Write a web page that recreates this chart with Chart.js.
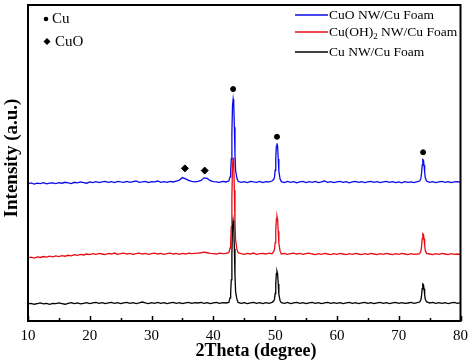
<!DOCTYPE html>
<html>
<head>
<meta charset="utf-8">
<script src="https://cdn.jsdelivr.net/npm/chart.js@4/dist/chart.umd.min.js"></script>
<style>
	html, body { margin: 0; padding: 0; background: #fff; }
	#wrap { width: 474px; height: 363px; }
</style>
</head>
<body>
<div id="wrap"><canvas id="xrd"></canvas></div>
<script>
// 2theta positions (degree), shared by the three patterns
const twoTheta = [
	10, 10.5, 11, 11.5, 12, 12.5, 13, 13.5, 14, 14.5, 15,
	15.5, 16, 16.5, 17, 17.5, 18, 18.5, 19, 19.5, 20, 20.5,
	21, 21.5, 22, 22.5, 23, 23.5, 24, 24.5, 25, 25.5, 26,
	26.5, 27, 27.5, 28, 28.5, 29, 29.5, 30, 30.5, 31, 31.5,
	32, 32.5, 33, 33.5, 34, 34.5, 35, 35.5, 36, 36.5, 37,
	37.5, 38, 38.5, 39, 39.5, 40, 40.5, 41, 41.5, 42, 42.5,
	42.7, 42.8, 42.9, 43.0, 43.1, 43.2, 43.3, 43.4, 43.5, 43.6, 43.8,
	44, 44.5, 45, 45.5, 46, 46.5, 47, 47.5, 48, 48.5, 49, 49.5,
	49.8, 49.9, 50.0, 50.1, 50.2, 50.3, 50.4, 50.5, 50.6, 50.8,
	51, 51.5, 52, 52.5, 53, 53.5, 54, 54.5, 55,
	55.5, 56, 56.5, 57, 57.5, 58, 58.5, 59, 59.5,
	60, 60.5, 61, 61.5, 62, 62.5, 63, 63.5, 64,
	64.5, 65, 65.5, 66, 66.5, 67, 67.5, 68, 68.5,
	69, 69.5, 70, 70.5, 71, 71.5, 72, 72.5, 73,
	73.4, 73.6, 73.7, 73.8, 73.9, 74.0, 74.1, 74.2, 74.3, 74.5,
	75, 75.5, 76, 76.5, 77, 77.5, 78, 78.5, 79, 79.5, 80,
]

// intensities (a.u., already stacked as in the figure)
const cuoNw = [
	43.4, 43.7, 43.3, 43.6, 43.5, 43.8, 43.4, 43.6, 43.7, 43.5, 43.8,
	43.6, 43.9, 43.7, 43.5, 43.9, 43.7, 44.0, 43.8, 43.6, 44.0, 43.8,
	44.1, 43.8, 44.0, 44.2, 43.9, 44.1, 43.8, 44.2, 44.0, 43.9, 44.2,
	43.9, 44.1, 44.3, 43.9, 44.0, 44.2, 43.8, 44.1, 44.0, 44.3, 43.9,
	44.1, 43.9, 44.2, 44.0, 44.3, 44.6, 45.4, 45.0, 44.5, 44.2, 44.0,
	44.2, 44.5, 45.3, 45.1, 44.4, 44.1, 44.0, 43.9, 44.2, 44.0, 44.3,
	45.6, 47.1, 51.3, 59.7, 68.1, 70.2, 68.4, 61.3, 52.6, 47.7, 45.3,
	44.2, 43.9, 44.1, 43.8, 44.2, 44.0, 43.9, 44.2, 43.8, 44.1, 44.0, 44.3,
	44.9, 45.6, 47.7, 51.6, 55.3, 56.2, 55.2, 51.3, 47.4, 44.9,
	44.1, 43.8, 44.2, 43.9, 44.1, 43.7, 44.0, 44.2, 43.8,
	44.1, 43.9, 44.2, 43.8, 44.0, 44.3, 43.9, 44.1, 43.8,
	44.0, 44.2, 43.9, 44.1, 43.7, 44.0, 44.2, 43.9, 44.1,
	43.8, 44.0, 44.2, 43.9, 44.1, 43.8, 44.0, 44.2, 43.9,
	44.1, 43.8, 44.0, 43.7, 44.1, 43.9, 44.0, 43.8, 44.1,
	44.3, 45.2, 46.8, 49.3, 51.1, 50.9, 49.3, 47.1, 45.3, 44.3,
	43.9, 44.1, 43.8, 44.0, 44.2, 43.9, 44.1, 43.8, 44.0, 44.1, 43.9,
]

const cuOh2Nw = [
	20.0, 20.2, 19.9, 20.3, 20.1, 20.4, 20.2, 20.5, 20.3, 20.6, 20.4,
	20.7, 20.5, 20.8, 20.6, 21.0, 20.8, 21.1, 20.9, 21.2, 21.0, 21.3,
	21.1, 21.4, 21.2, 21.0, 21.4, 21.2, 21.5, 21.1, 21.3, 21.5, 21.2,
	21.4, 21.1, 21.3, 21.5, 21.2, 21.4, 21.1, 21.3, 21.5, 21.2, 21.4,
	21.1, 21.3, 21.5, 21.2, 21.4, 21.1, 21.4, 21.2, 21.5, 21.3, 21.4,
	21.5, 21.6, 21.8, 21.6, 21.4, 21.3, 21.2, 21.5, 21.3, 21.4, 21.6,
	23.1, 24.9, 29.8, 39.5, 49.3, 51.7, 49.6, 41.4, 31.3, 25.6, 22.8,
	21.6, 21.3, 21.1, 21.4, 21.2, 21.5, 21.1, 21.3, 21.4, 21.2, 21.5, 21.3,
	22.1, 22.8, 24.8, 28.6, 32.3, 33.1, 32.2, 28.4, 24.6, 22.1,
	21.2, 21.4, 21.1, 21.3, 21.5, 21.2, 21.4, 21.1, 21.3,
	21.5, 21.2, 21.0, 21.3, 21.1, 21.4, 21.2, 21.0, 21.3,
	21.1, 21.4, 21.2, 21.0, 21.3, 21.1, 21.4, 21.2, 21.0,
	21.3, 21.1, 21.4, 21.2, 21.0, 21.3, 21.1, 21.4, 21.2,
	21.0, 21.3, 21.1, 21.4, 21.2, 21.0, 21.3, 21.1, 21.2,
	21.3, 22.2, 23.6, 26.0, 27.6, 27.4, 26.0, 24.0, 22.3, 21.4,
	21.2, 21.0, 21.3, 21.1, 21.4, 21.2, 21.0, 21.3, 21.1, 21.2, 21.0,
]

const cuNw = [
	5.4, 5.6, 5.3, 5.5, 5.7, 5.4, 5.6, 5.3, 5.6, 5.5, 5.7,
	5.5, 5.3, 5.6, 5.8, 5.5, 5.7, 5.4, 5.6, 5.8, 5.5, 5.7,
	5.9, 5.6, 5.8, 5.5, 5.7, 5.9, 5.6, 5.8, 5.5, 5.7, 5.9,
	5.6, 5.8, 5.5, 5.7, 6.0, 5.7, 5.5, 5.8, 5.6, 5.9, 5.6,
	5.8, 5.5, 5.7, 5.9, 5.6, 5.8, 5.5, 5.7, 5.9, 5.6, 5.8,
	5.7, 5.9, 5.6, 5.8, 5.5, 5.7, 5.9, 5.6, 5.8, 5.7, 5.9,
	7.3, 8.8, 13.0, 21.3, 29.6, 31.7, 29.9, 22.9, 14.3, 9.3, 7.0,
	5.9, 5.6, 5.8, 5.5, 5.7, 5.9, 5.6, 5.8, 5.5, 5.8, 5.6, 5.9,
	6.4, 7.0, 8.7, 11.9, 15.0, 15.7, 14.9, 11.7, 8.5, 6.4,
	5.8, 5.6, 5.9, 5.5, 5.7, 5.9, 5.6, 5.8, 5.5,
	5.7, 5.9, 5.6, 5.8, 5.5, 5.7, 5.9, 5.6, 5.8,
	5.6, 5.8, 5.5, 5.7, 5.9, 5.6, 5.8, 5.5, 5.7,
	5.9, 5.6, 5.8, 5.5, 5.7, 5.9, 5.6, 5.8, 5.5,
	5.7, 5.9, 5.6, 5.8, 5.6, 5.7, 5.9, 5.6, 5.8,
	6.0, 6.8, 8.1, 10.2, 11.7, 11.5, 10.2, 8.4, 6.9, 6.1,
	5.7, 5.9, 5.6, 5.8, 5.6, 5.8, 5.5, 5.7, 5.9, 5.6, 5.8,
]

// peak markers
const cuMarkX = [43.2, 50.3, 73.95]
const cuMarkY = [73.4, 58.3, 53.4]
const cuoMarkX = [35.4, 38.6]
const cuoMarkY = [48.3, 47.6]

const seriesNames = ["CuO NW/Cu Foam", "Cu(OH)2 NW/Cu Foam", "Cu NW/Cu Foam"]
const seriesColors = ["rgb(10,10,235)", "rgb(232,12,20)", "rgb(0,0,0)"]

const serif = "'Liberation Serif', 'Times New Roman', serif"

function points(xs, ys) {
	return xs.map((x, i) => ({ x: x, y: ys[i] }))
}

const decorations = {
	id: "decorations",
	afterDraw(chart) {
		const ctx = chart.ctx
		const area = chart.chartArea
		const xScale = chart.scales.x
		ctx.save()

		// frame
		ctx.strokeStyle = "#000"
		ctx.lineWidth = 2
		ctx.strokeRect(area.left, area.top, area.right - area.left, area.bottom - area.top)

		// inward ticks on the bottom axis
		ctx.lineWidth = 1.5
		ctx.beginPath()
		for (let v = 10; v <= 80; v += 5) {
			const px = Math.round(xScale.getPixelForValue(v)) + 0.5
			const len = v % 10 === 0 ? 5 : 3
			ctx.moveTo(px, area.bottom)
			ctx.lineTo(px, area.bottom - len)
		}
		ctx.stroke()

		// axis titles
		ctx.fillStyle = "#000"
		ctx.textAlign = "center"
		ctx.textBaseline = "middle"
		ctx.font = "bold 18px " + serif
		ctx.fillText("2Theta (degree)", 256, 351)
		ctx.save()
		ctx.translate(12, 158)
		ctx.rotate(-Math.PI / 2)
		ctx.font = "bold 19px " + serif
		ctx.fillText("Intensity (a.u.)", 0, 0)
		ctx.restore()

		// phase key, top left
		ctx.textAlign = "left"
		ctx.font = "15px " + serif
		ctx.beginPath()
		ctx.arc(46, 19, 2.3, 0, Math.PI * 2)
		ctx.fill()
		ctx.fillText("Cu", 52, 19)
		ctx.beginPath()
		ctx.moveTo(47, 38)
		ctx.lineTo(50.5, 41.5)
		ctx.lineTo(47, 45)
		ctx.lineTo(43.5, 41.5)
		ctx.closePath()
		ctx.fill()
		ctx.fillText("CuO", 55, 42)

		// series legend, top right
		const rows = [15, 32, 52]
		ctx.font = "13.5px " + serif
		rows.forEach((y, i) => {
			ctx.strokeStyle = seriesColors[i]
			ctx.lineWidth = 1.5
			ctx.beginPath()
			ctx.moveTo(295, y)
			ctx.lineTo(328, y)
			ctx.stroke()
			ctx.fillStyle = "#000"
			if (i === 1) {
				let x = 329
				ctx.fillText("Cu(OH)", x, y)
				x += ctx.measureText("Cu(OH)").width
				ctx.font = "9px " + serif
				ctx.fillText("2", x, y + 5)
				x += ctx.measureText("2").width
				ctx.font = "13.5px " + serif
				ctx.fillText(" NW/Cu Foam", x, y)
			} else {
				ctx.fillText(seriesNames[i], 329, y)
			}
		})
		ctx.restore()
	},
}

window.onload = () => {
	const canvas = document.querySelector("#xrd")
	const line = (i, data) => ({
		type: "line",
		label: seriesNames[i],
		data: data,
		borderColor: seriesColors[i],
		backgroundColor: seriesColors[i],
		borderWidth: 1.3,
		pointRadius: 0,
		tension: 0,
	})

	new Chart(canvas, {
		type: "line",
		data: {
			datasets: [
				{
					type: "scatter",
					label: "Cu",
					data: points(cuMarkX, cuMarkY),
					pointStyle: "circle",
					pointRadius: 2.5,
					backgroundColor: "#000",
					borderColor: "#000",
				},
				{
					type: "scatter",
					label: "CuO",
					data: points(cuoMarkX, cuoMarkY),
					pointStyle: "rectRot",
					pointRadius: 3.5,
					backgroundColor: "#000",
					borderColor: "#000",
				},
				line(0, points(twoTheta, cuoNw)),
				line(2, points(twoTheta, cuNw)),
				line(1, points(twoTheta, cuOh2Nw)),
			],
		},
		options: {
			responsive: true,
			maintainAspectRatio: false,
			animation: false,
			layout: {
				padding: { left: 28, right: 13, top: 5, bottom: 12 },
			},
			plugins: {
				legend: { display: false },
				tooltip: { enabled: false },
			},
			scales: {
				x: {
					type: "linear",
					min: 10,
					max: 80,
					grid: { display: false, drawTicks: false },
					border: { display: false },
					ticks: {
						stepSize: 10,
						padding: 6,
						color: "#000",
						font: { family: serif, size: 15 },
					},
				},
				y: {
					display: false,
					min: 0,
					max: 100,
				},
			},
		},
		plugins: [decorations],
	})
}
</script>
</body>
</html>
